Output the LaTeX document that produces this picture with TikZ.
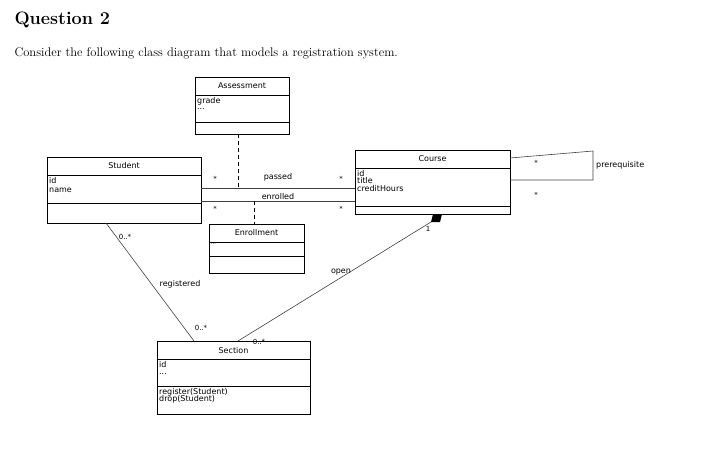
\documentclass[tikz,border=0pt]{standalone}
\usepackage{fontspec}
\newfontfamily\umlfont{DejaVu Sans}
\begin{document}
\begin{tikzpicture}[x=1pt,y=-1pt,
  box/.style={draw, line width=0.7pt, inner sep=0pt},
  div/.style={line width=0.7pt},
  lbl/.style={font=\umlfont\fontsize{8}{9.5}\selectfont, inner sep=1pt},
  attr/.style={lbl, anchor=north west, align=left},
  mult/.style={font=\umlfont\fontsize{7}{8}\selectfont, inner sep=1pt},
  assoc/.style={line width=0.6pt, draw=black!75},
  dashln/.style={line width=0.6pt, dash pattern=on 4pt off 3pt}]
\useasboundingbox (0,0) rectangle (714,449);

\node[anchor=west, font=\fontsize{18}{20}\selectfont\bfseries] (q) at (11,20) {Question 2};
\node[anchor=west, font=\fontsize{12.5}{15}\selectfont] (intro) at (11,53) {Consider the following class diagram that models a registration system.};

% Assessment
\node[box, minimum width=94pt, minimum height=57pt] (ass) at (242,105.5) {};
\draw[div] (195,95) -- (289,95) (195,122) -- (289,122);
\node[lbl] (assn) at (242,86) {Assessment};
\node[attr] (assa) at (196,96) {grade\\[-3pt]...};

% Student
\node[box, minimum width=154pt, minimum height=66pt] (stu) at (124,190) {};
\draw[div] (47,175) -- (201,175) (47,203) -- (201,203);
\node[lbl] (stun) at (124,166) {Student};
\node[attr] (stua) at (48,176) {id\\name};

% Course
\node[box, minimum width=155pt, minimum height=64pt] (crs) at (432.5,182) {};
\draw[div] (355,168) -- (510,168) (355,206) -- (510,206);
\node[lbl] (crsn) at (432.5,159) {Course};
\node[attr] (crsa) at (356,169) {id\\[-2pt]title\\[-2pt]creditHours};

% Enrollment
\node[box, minimum width=95pt, minimum height=49pt] (enr) at (256.5,248.5) {};
\draw[div] (209,242) -- (304,242) (209,256) -- (304,256);
\node[lbl] (enrn) at (256.5,233) {Enrollment};
\node[attr, font=\umlfont\tiny] (enra) at (210,243) {...};

% Section
\node[box, minimum width=153pt, minimum height=73pt] (sec) at (233.5,377.5) {};
\draw[div] (157,359) -- (310,359) (157,386) -- (310,386);
\node[lbl] (secn) at (233.5,351) {Section};
\node[attr] (seca) at (158,360) {id\\[-2pt]...};
\node[attr] (secm) at (158,387) {register(Student)\\[-2pt]drop(Student)};

% associations
\coordinate (p1) at (201,188); \coordinate (p2) at (355,188);
\coordinate (e1) at (201,201); \coordinate (e2) at (355,201);
\draw[assoc] (p1) -- node[lbl, above, pos=0.5, yshift=6pt] (pl) {passed} (p2);
\draw[assoc] (e1) -- node[lbl, above, pos=0.5] (el) {enrolled} (e2);
\coordinate (pa) at (238,188); \coordinate (ea) at (254,201);
\draw[dashln] (ass.south -| pa) -- (pa);
\draw[dashln] (ea) -- (enr.north -| ea);
\node[mult] (m1) at (215,179) {*};
\node[mult] (m2) at (341,179) {*};
\node[mult] (m3) at (215,209) {*};
\node[mult] (m4) at (341,209) {*};

% prerequisite
\coordinate (r1) at (510,158); \coordinate (r2) at (593,151);
\coordinate (r3) at (593,180); \coordinate (r4) at (510,180);
\draw[assoc] (r1) -- (r2) -- (r3) -- (r4);
\node[lbl, anchor=west] (pre) at (595,165) {prerequisite};
\node[mult] (m5) at (536,163) {*};
\node[mult] (m6) at (536,195) {*};

% registered
\coordinate (s1) at (106,223); \coordinate (s2) at (194,341);
\draw[assoc] (s1) -- (s2);
\node[mult] (m7) at (125,237) {0..*};
\node[lbl] (reg) at (180,284) {registered};
\node[mult] (m8) at (201,328) {0..*};

% open (composition)
\coordinate (o1) at (238,341); \coordinate (o2) at (431,222);
\draw[assoc] (o1) -- (o2);
\fill (431,222) -- (433,214) -- (442,214) -- (440,222) -- cycle;
\node[lbl] (opn) at (341,272) {open};
\node[mult] (m9) at (428,229) {1};
\node[mult] (m10) at (259,342) {0..*};
\end{tikzpicture}
\end{document}
